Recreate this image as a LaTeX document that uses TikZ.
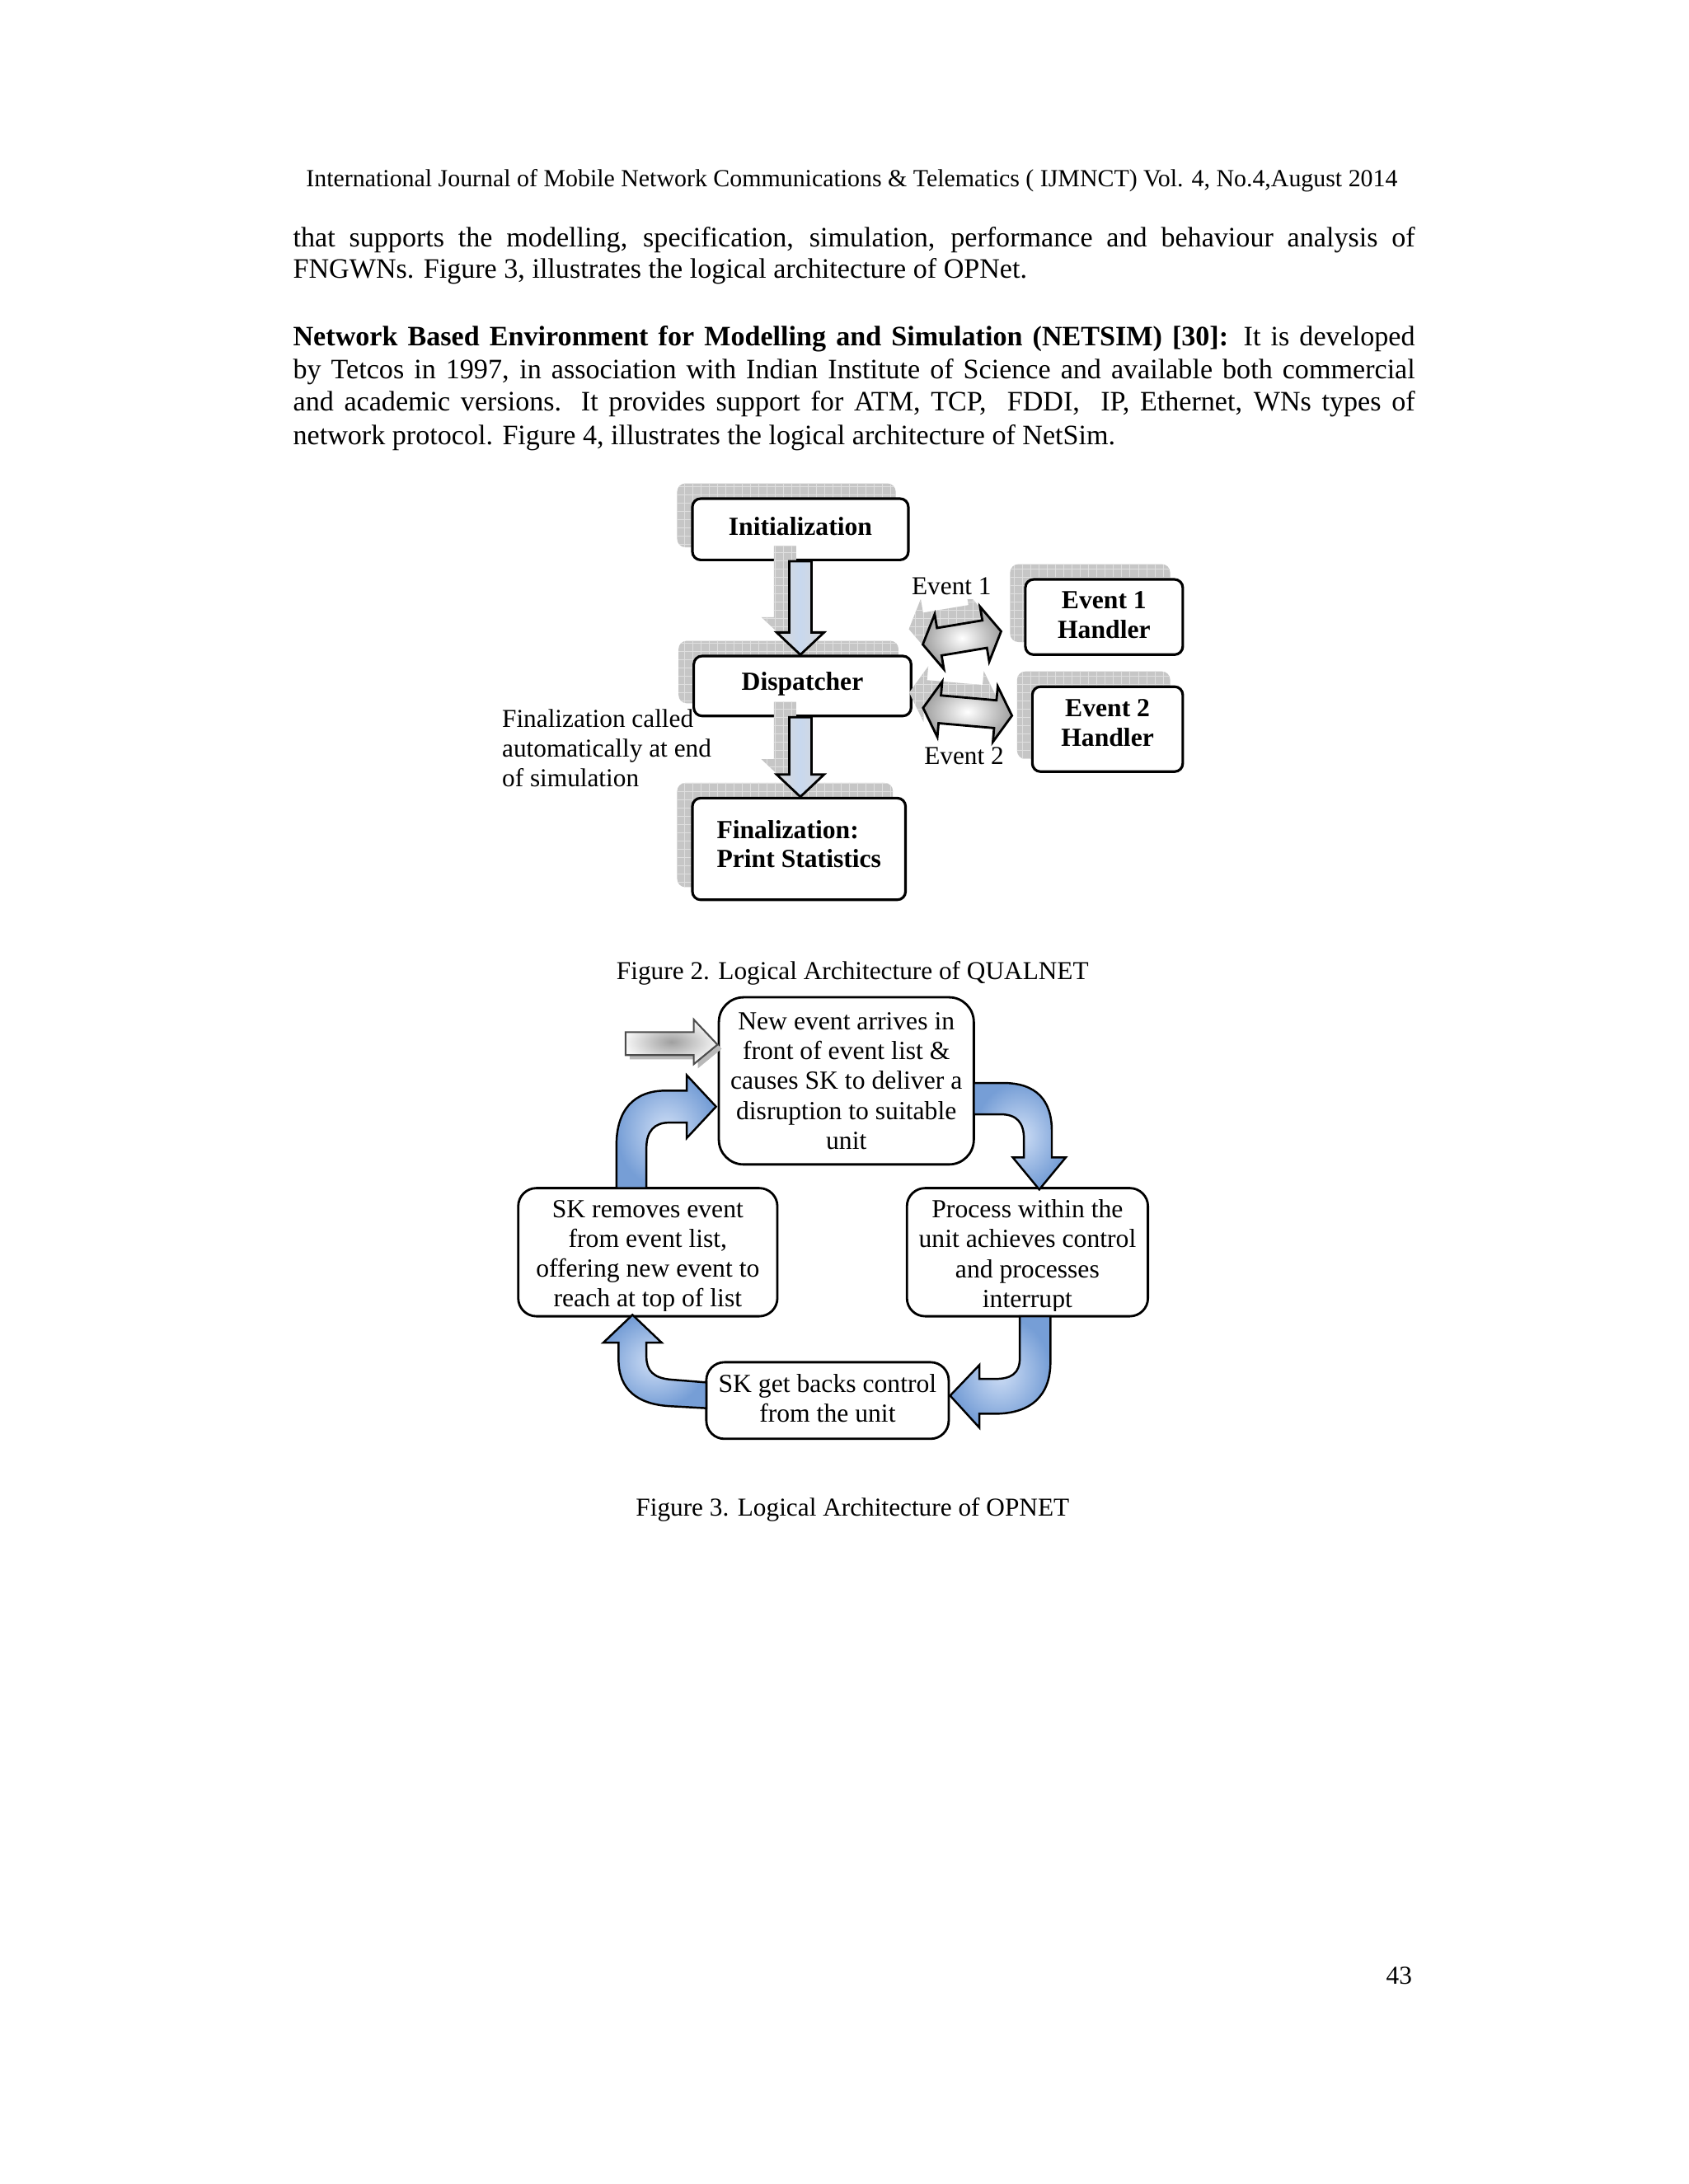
\documentclass[tikz,border=0pt]{standalone}
\usepackage{fontspec}
\setmainfont{Liberation Serif}
\usetikzlibrary{calc,fit,backgrounds}
\definecolor{shaftblue}{RGB}{200,216,238}
\definecolor{loopblue}{RGB}{118,158,214}
\definecolor{looplight}{RGB}{208,223,246}
\tikzset{
  pagetext/.style ={anchor=base west,inner sep=0pt,font=\fontsize{9.7}{11.3}\selectfont},
  smalltext/.style={inner sep=0pt,font=\fontsize{8.9}{10.3}\selectfont},
  qbox/.style     ={draw,line width=0.9pt,rounded corners=1mm,fill=white,inner sep=0pt},
  qtext/.style    ={inner sep=0pt,align=center,font=\fontsize{9}{10.1}\selectfont\bfseries},
  obox/.style     ={draw,line width=0.8pt,rounded corners=2.2mm,fill=white,inner sep=0pt},
  otext/.style    ={inner sep=0pt,align=center,font=\fontsize{9}{10.3}\selectfont},
  shaftfill/.style={draw,line width=0.8pt,left color=gray!30,right color=gray!30,middle color=shaftblue},
  dblfill/.style  ={draw,line width=0.8pt,inner color=white,outer color=gray!75},
  loopfill/.style ={draw,line width=0.7pt,inner color=looplight,outer color=loopblue},
  inarrow/.style  ={draw=gray!60!black,line width=0.6pt,inner color=gray!75,outer color=gray!8},
}
% fat down arrow: style, top point, tip point, offset
\newcommand{\fatdown}[4]{%
  \path[#1] ($(#2)+(#4)+(-8,0)$) -- ($(#3)+(#4)+(-8,-16)$) -- ($(#3)+(#4)+(-17,-16)$)
    -- ($(#3)+(#4)$) -- ($(#3)+(#4)+(17,-16)$) -- ($(#3)+(#4)+(8,-16)$) -- ($(#2)+(#4)+(8,0)$) -- cycle;}
% double arrow of half length #1
\newcommand{\dblshape}[1]{(-#1,0) -- (-#1+12,-20) -- (-#1+12,-10) -- (#1-12,-10) -- (#1-12,-20)
    -- (#1,0) -- (#1-12,20) -- (#1-12,10) -- (-#1+12,10) -- (-#1+12,20) -- cycle}
% grey grid fill of figure 2 shadows (used inside a clip)
\newcommand{\shadowgrid}{%
  \fill[gray!45] (340,330) rectangle (880,660);
  \draw[gray!25,very thin,step=0.1cm] (340,330) grid (880,660);}

\begin{document}
\begin{tikzpicture}[x=0.016898cm,y=-0.016898cm]
  \useasboundingbox (0,0) rectangle (1212,1568);

  % page text
  \node[smalltext,font=\fontsize{8.5}{10}\selectfont,anchor=base] (head) at (611.5,134) {International Journal of Mobile Network Communications \& Telematics ( IJMNCT) Vol. 4, No.4,August 2014};
  \node[pagetext] (l1) at (210,177) {\hbox to 13.603cm{that supports the modelling, specification, simulation, performance and behaviour analysis of}};
  \node[pagetext] (l2) at (210,200) {FNGWNs. Figure 3, illustrates the logical architecture of OPNet.};
  \node[pagetext] (l3) at (210,248) {\hbox to 13.603cm{\bfseries Network Based Environment for Modelling and Simulation (NETSIM) [30]:\mdseries{} It is developed}};
  \node[pagetext] (l4) at (210,272) {\hbox to 13.603cm{by Tetcos in 1997, in association with Indian Institute of Science and available both commercial}};
  \node[pagetext] (l5) at (210,295) {\hbox to 13.603cm{and academic versions. It provides support for ATM, TCP,\ \ FDDI,\ \ IP, Ethernet, WNs types of}};
  \node[pagetext] (l6) at (210,319) {network protocol. Figure 4, illustrates the logical architecture of NetSim.};

  % figure 2
  \node[qbox,fit={(497,358) (652,402)}] (init) {};
  \node[qbox,fit={(498,471) (654,514)}] (disp) {};
  \node[qbox,fit={(497,573) (650,646)}] (fin) {};
  \node[qbox,fit={(736,416) (849,470)}] (ev1) {};
  \node[qbox,fit={(741,493) (849,554)}] (ev2) {};
  \node[qtext] (inittxt) at ($(init)+(0,-2)$) {Initialization};
  \node[qtext] (disptxt) at ($(disp)+(0,-1.5)$) {Dispatcher};
  \node[qtext] (ev1txt) at ($(ev1)+(0,-1.5)$) {Event 1\\Handler};
  \node[qtext] (ev2txt) at ($(ev2)+(0,-4.5)$) {Event 2\\Handler};
  \node[qtext,anchor=west,align=left] (fintxt) at ($(fin.west)+(18,-3.5)$) {Finalization:\\Print Statistics};

  \coordinate (a1top) at (init.south);
  \coordinate (a1tip) at (init.south |- disp.north);
  \coordinate (a2top) at (disp.south -| init.south);
  \coordinate (a2tip) at (init.south |- fin.north);
  % arrow shadows lie over the boxes
  \foreach \t/\b in {a1top/a1tip,a2top/a2tip}{
    \begin{scope}
      \fatdown{clip}{\t}{\b}{-11,-11}
      \shadowgrid
    \end{scope}
  }
  \fatdown{shaftfill}{a1top}{a1tip}{0,0}
  \fatdown{shaftfill}{a2top}{a2tip}{0,0}

  \coordinate (e1) at (690.5,458);
  \coordinate (e2) at (694.5,511);
  \foreach \m/\ang/\len in {e1/9.5/28.5,e2/-5/32}{
    \begin{scope}
      \clip[shift={(\m)},shift={(-10,-11)},rotate=\ang] \dblshape{\len};
      \shadowgrid
    \end{scope}
  }
  \node[smalltext,fill=white,inner sep=1.5pt] (ev1lab) at (683,421) {Event 1};
  \foreach \m/\ang/\len in {e1/9.5/28.5,e2/-5/32}{
    \path[dblfill,shift={(\m)},rotate=\ang] \dblshape{\len};
  }
  \node[smalltext] (ev2lab) at (692,543) {Event 2};
  \node[smalltext,anchor=west,align=left] (finnote) at (360,537) {Finalization called\\automatically at end\\of simulation};
  \node[smalltext,anchor=base] (cap2) at (612,703.5) {Figure 2. Logical Architecture of QUALNET};

  % figure 3
  \node[obox,rounded corners=3mm,fit={(516,716) (699,836)}] (newev) {};
  \node[obox,fit={(651,853) (824,945)}] (proc) {};
  \node[obox,fit={(372,853) (558,945)}] (skrem) {};
  \node[obox,fit={(507,978) (681,1033)}] (skback) {};
  \node[otext] (newevtxt) at (newev) {New event arrives in\\front of event list \&\\causes SK to deliver a\\disruption to suitable\\unit};
  \begin{scope}
    \clip (proc.north west) rectangle ($(proc.south east)+(0,-5)$);
    \node[otext] (proctxt) at ($(proc)+(0,3)$) {Process within the\\unit achieves control\\and processes\\interrupt};
  \end{scope}
  \begin{scope}
    \clip (skrem.north west) rectangle ($(skrem.south east)+(0,-5)$);
    \node[otext] (skremtxt) at ($(skrem)+(0,3)$) {SK removes event\\from event list,\\offering new event to\\reach at top of list};
  \end{scope}
  \node[otext] (skbacktxt) at ($(skback)+(0,-1.5)$) {SK get backs control\\from the unit};

  % entering arrow
  \path[fill=gray!55] (452,744) -- (501,744) -- (501,735) -- (518,753) -- (501,767) -- (501,760.5) -- (452,760.5) -- cycle;
  \path[inarrow] (449,741) -- (498,741) -- (498,732) -- (515,750) -- (498,764) -- (498,757.5) -- (449,757.5) -- cycle;

  % loop arrows
  \path[loopfill] (699,777.5) -- (720,777.5) .. controls (744,777.5) and (755,790) .. (755,812) -- (755,831)
    -- (765,831) -- (746,854) -- (727,831) -- (735,831) -- (735,818) .. controls (735,806) and (730,800) .. (718,800) -- (699,800) -- cycle;
  \path[loopfill] (732,945) -- (732,975) .. controls (732,986) and (726,990) .. (714,990) -- (703,990) -- (703,980)
    -- (682,1002) -- (703,1025) -- (703,1015) -- (714,1015) .. controls (740,1015) and (754,1002) .. (754,978) -- (754,945) -- cycle;
  \path[loopfill] (507,992.5) -- (482,990.5) .. controls (469,989.5) and (464,984) .. (464,974) -- (464,964) -- (475,964)
    -- (454,944) -- (433,964) -- (444,964) -- (444,976) .. controls (444,998) and (458,1008) .. (480,1009.5) -- (507,1011) -- cycle;
  \path[loopfill] (442.5,853) -- (442.5,822) .. controls (442.5,797) and (455,783) .. (478,783) -- (493,783) -- (493,772)
    -- (514,794.5) -- (493,817) -- (493,806) -- (480,806) .. controls (470,806) and (464,812) .. (464,824) -- (464,853) -- cycle;

  \node[smalltext,anchor=base] (cap3) at (612,1088.5) {Figure 3. Logical Architecture of OPNET};
  \node[smalltext,anchor=base east] (pnum) at (1014,1424.5) {43};

  % box shadows behind figure 2
  \begin{scope}[on background layer]
    \fill[white] (0,0) rectangle (1212,1568);
    \foreach \b in {init,disp,fin,ev1,ev2}{
      \begin{scope}
        \clip[rounded corners=1mm] ([shift={(-10,-10)}]\b.south west) rectangle ([shift={(-10,-10)}]\b.north east);
        \shadowgrid
      \end{scope}
    }
  \end{scope}
\end{tikzpicture}
\end{document}
